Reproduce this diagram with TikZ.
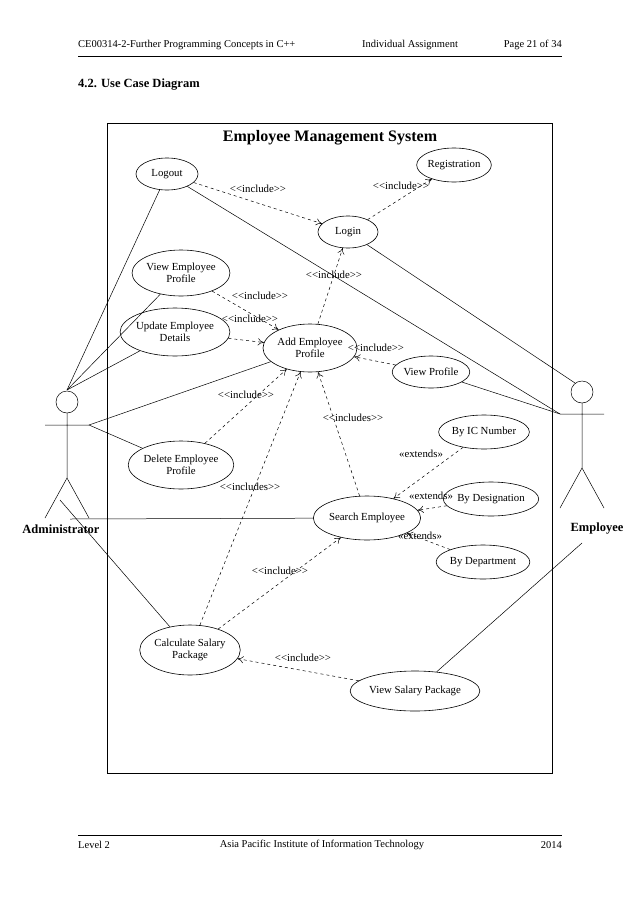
\documentclass[tikz,border=0pt]{standalone}
\usepackage{fontspec}
\setmainfont{Liberation Serif}
\usetikzlibrary{shapes.geometric,arrows.meta}
\begin{document}
\begin{tikzpicture}[x=1pt,y=-1pt,
 uc/.style={ellipse,draw,line width=0.6pt,inner sep=0pt,font=\fontsize{10.8}{12}\selectfont,align=center},
 dep/.style={dashed,-{To[length=6pt,width=7pt]},line width=0.5pt},
 lab/.style={font=\fontsize{10.8}{12}\selectfont,inner sep=0pt},
 assoc/.style={line width=0.5pt},
 hdr/.style={font=\fontsize{10.5}{12}\selectfont,inner sep=0pt}]
\useasboundingbox (0,0) rectangle (638,902);
\fill[white] (0,0) rectangle (638,902);
% header
\node[hdr,anchor=west] (h1) at (78,45) {CE00314-2-Further Programming Concepts in C++};
\node[hdr] (h2) at (410,45) {Individual Assignment};
\node[hdr,anchor=east] (h3) at (562,45) {Page 21 of 34};
\draw[line width=0.5pt] (78,56) -- (562,56);
\node[anchor=west,font=\fontsize{12.5}{14}\selectfont\bfseries,inner sep=0pt] (sec) at (78,85) {4.2. Use Case Diagram};
% frame
\draw[line width=0.8pt] (107,123) rectangle (552,773);
\node[font=\fontsize{16}{18}\selectfont\bfseries] (title) at (330,138) {Employee Management System};
% use cases
\node[uc,minimum width=62,minimum height=32] (logout) at (167,174) {Logout};
\node[uc,minimum width=62,minimum height=34] (reg) at (454,165) {Registration};
\node[uc,minimum width=60,minimum height=32] (login) at (348,232) {Login};
\node[uc,minimum width=92,minimum height=46] (vep) at (181,273) {View Employee\\Profile};
\node[uc,minimum width=94,minimum height=48] (upd) at (175,332) {Update Employee\\Details};
\node[uc,minimum width=94,minimum height=48] (add) at (310,348) {Add Employee\\Profile};
\node[uc,minimum width=74,minimum height=32] (vp) at (431,372) {View Profile};
\node[uc,minimum width=80,minimum height=34] (ic) at (484,432) {By IC Number};
\node[uc,minimum width=94,minimum height=48] (del) at (181,465) {Delete Employee\\Profile};
\node[uc,minimum width=86,minimum height=34] (des) at (491,499) {By Designation};
\node[uc,minimum width=96,minimum height=44] (srch) at (367,518) {Search Employee};
\node[uc,minimum width=82,minimum height=34] (dep) at (483,562) {By Department};
\node[uc,minimum width=96,minimum height=50] (calc) at (190,650) {Calculate Salary\\Package};
\node[uc,minimum width=96,minimum height=40] (vsp) at (415,691) {View Salary Package};
% administrator actor
\draw[line width=0.5pt] (67,402) circle (11);
\draw[assoc] (67,413) -- (67,478) (45,425) -- (89,425) (67,478) -- (45,518) (67,478) -- (89,518);
\coordinate (aneck) at (67,390);
\coordinate (ahand) at (89,425);
\coordinate (aleg) at (70,519);
\coordinate (afoot) at (60,500);
\node[font=\fontsize{12.5}{14}\selectfont\bfseries] (admin) at (61,529) {Administrator};
% employee actor
\draw[line width=0.5pt] (582,392) circle (11);
\draw[assoc] (582,403) -- (582,468) (560,414) -- (604,414) (582,468) -- (560,508) (582,468) -- (604,508);
\coordinate (ehand) at (560,414);
\coordinate (ehead) at (575,383);
\coordinate (eleg) at (582,543);
\node[font=\fontsize{12.5}{14}\selectfont\bfseries] (emp) at (597,529) {Employee};
% associations
\draw[assoc] (aneck) -- (logout);
\draw[assoc] (aneck) -- (vep);
\draw[assoc] (aneck) -- (upd);
\draw[assoc] (ahand) -- (add);
\draw[assoc] (ahand) -- (del);
\draw[assoc] (aleg) -- (srch);
\draw[assoc] (afoot) -- (calc);
\draw[assoc] (logout) -- (ehand);
\draw[assoc] (login) -- (ehead);
\draw[assoc] (vp) -- (ehand);
\draw[assoc] (vsp) -- (eleg);
% dependencies
\draw[dep] (logout) -- (login);
\node[lab] (l1) at (258,189) {<{}<include>{}>};
\draw[dep] (login) -- (reg);
\node[lab] (l2) at (401,186) {<{}<include>{}>};
\draw[dep] (add) -- (login);
\node[lab] (l3) at (334,275) {<{}<include>{}>};
\draw[dep] (vep) -- (add);
\node[lab] (l4) at (260,296) {<{}<include>{}>};
\draw[dep] (upd) -- (add);
\node[lab] (l5) at (250,319) {<{}<include>{}>};
\draw[dep] (vp) -- (add);
\node[lab] (l6) at (376,348) {<{}<include>{}>};
\draw[dep] (del) -- (add);
\node[lab] (l7) at (246,395) {<{}<include>{}>};
\draw[dep] (srch) -- (add);
\node[lab] (l8) at (353,418) {<{}<includes>{}>};
\draw[dep] (calc) -- (add);
\node[lab] (l9) at (250,487) {<{}<includes>{}>};
\draw[dep] (calc) -- (srch);
\node[lab] (l10) at (280,571) {<{}<include>{}>};
\draw[dep] (vsp) -- (calc);
\node[lab] (l11) at (303,658) {<{}<include>{}>};
\draw[dep] (ic) -- (srch);
\node[lab] (l12) at (421,454) {«extends»};
\draw[dep] (des) -- (srch);
\node[lab] (l13) at (431,496) {«extends»};
\draw[dep] (dep) -- (srch);
\node[lab] (l14) at (420,536) {«extends»};
% footer
\draw[line width=0.5pt] (78,835) -- (562,835);
\node[hdr,anchor=west] (f1) at (78,845) {Level 2};
\node[hdr] (f2) at (322,845) {Asia Pacific Institute of Information Technology};
\node[hdr,anchor=east] (f3) at (562,845) {2014};
\end{tikzpicture}
\end{document}
